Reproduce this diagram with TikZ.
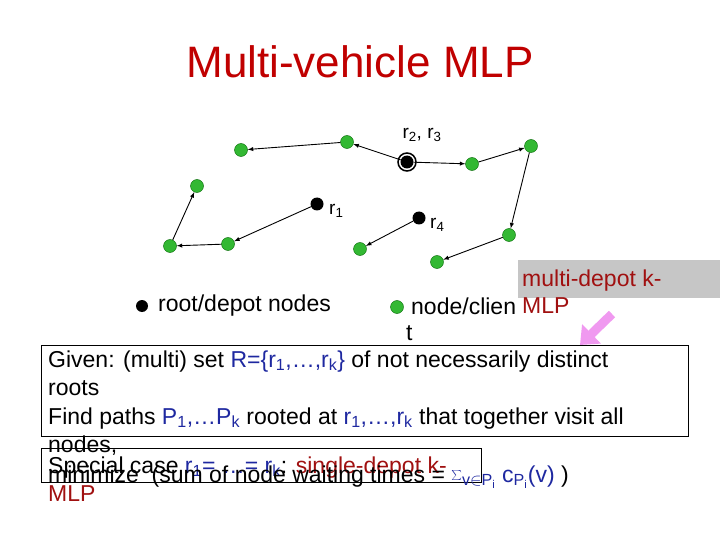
\documentclass[tikz,border=0pt]{standalone}
\usepackage{fontspec}
\usetikzlibrary{arrows.meta}
\setmainfont{Liberation Sans}
\begin{document}
\begin{tikzpicture}[x=1pt,y=-1pt,
  gn/.style={circle,fill=green!65!black!80,draw=green!40!black,line width=0.4pt,minimum size=13pt,inner sep=0pt},
  bn/.style={circle,fill=black,minimum size=13pt,inner sep=0pt},
  ar/.style={-latex,line width=0.9pt},
  tx/.style={anchor=base west,inner sep=0pt,font=\fontsize{23}{25}\selectfont},
  lbl/.style={inner sep=0pt,font=\fontsize{19}{21}\selectfont}]
\definecolor{tred}{RGB}{192,0,0}
\definecolor{dred}{RGB}{160,16,16}
\definecolor{blu}{RGB}{30,40,160}
\useasboundingbox (0,0) rectangle (720,540);
\node[text=tred,font=\fontsize{44}{46}\selectfont] (title) at (360,62) {Multi-vehicle MLP};
% nodes
\node[gn] (g1) at (241,150) {};
\node[gn] (g2) at (347,142) {};
\node[bn] (R) at (407,162) {};
\draw[line width=1.5pt] (R) circle (9pt);
\node[gn] (g3) at (472,164) {};
\node[gn] (g4) at (531,146) {};
\node[gn] (g5) at (509,235) {};
\node[gn] (g6) at (437,262) {};
\node[bn] (r4) at (419,218) {};
\node[gn] (g7) at (360,249) {};
\node[bn] (r1) at (317,204) {};
\node[gn] (g8) at (228,244) {};
\node[gn] (g9) at (170,246) {};
\node[gn] (g10) at (197,186) {};
\draw[ar] (R) -- (g2); \draw[ar] (g2) -- (g1);
\draw[ar] (R) -- (g3); \draw[ar] (g3) -- (g4); \draw[ar] (g4) -- (g5); \draw[ar] (g5) -- (g6);
\draw[ar] (r4) -- (g7);
\draw[ar] (r1) -- (g8); \draw[ar] (g8) -- (g9); \draw[ar] (g9) -- (g10);
\node[lbl,anchor=south] (l23) at (422,142) {r\textsubscript{2}, r\textsubscript{3}};
\node[lbl,anchor=west] (l1) at (329,211) {r\textsubscript{1}};
\node[lbl,anchor=west] (l4) at (430,225) {r\textsubscript{4}};
% legend
\node[bn,minimum size=12pt] (lb) at (142,306) {};
\node[tx,anchor=west] (lbt) at (158,306) {root/depot nodes};
\node[gn] (lg) at (397,307) {};
\node[tx,anchor=west] (lgt) at (411,306) {node/clien};
\node[tx,anchor=west] (lgt2) at (406,333) {t};
\fill[gray!45] (518,260) rectangle (720,298);
\node[tx,anchor=west,text=dred] (md) at (522,281) {multi-depot k-};
\node[tx,anchor=west,text=dred] (mlp) at (522,306) {MLP};
\draw[line width=9pt,violet!30!magenta!40,-{Triangle[length=16pt,width=26pt]}] (612,314) -- (580,345);
% boxes
\draw[line width=0.7pt] (41,345) rectangle (688,436);
\draw[line width=0.7pt] (41,448) rectangle (481,482);
\node[tx] (t1) at (48,367) {Given: (multi) set \textcolor{blu}{R=\{r\textsubscript{1},\ldots,r\textsubscript{k}\}} of not necessarily distinct};
\node[tx] (t2) at (48,395) {roots};
\node[tx] (t3) at (48,424) {Find paths \textcolor{blu}{P\textsubscript{1},\ldots P\textsubscript{k}} rooted at \textcolor{blu}{r\textsubscript{1},\ldots,r\textsubscript{k}} that together visit all};
\node[tx] (t4) at (48,452) {nodes,};
\node[tx] (t5) at (48,473) {Special case \textcolor{blu}{r\textsubscript{1}= \ldots = r\textsubscript{k}}: \textcolor{dred}{single-depot k-}};
\node[tx] (t6) at (48,482) {minimize \ (sum of node waiting times = \textcolor{blu}{{\fontsize{28}{28}\selectfont$\sum$}\textsubscript{v$\in$P\textsubscript{i}} c\textsubscript{P\textsubscript{i}}(v)} )};
\node[tx,text=dred] (t7) at (48,501) {MLP};
\end{tikzpicture}
\end{document}
